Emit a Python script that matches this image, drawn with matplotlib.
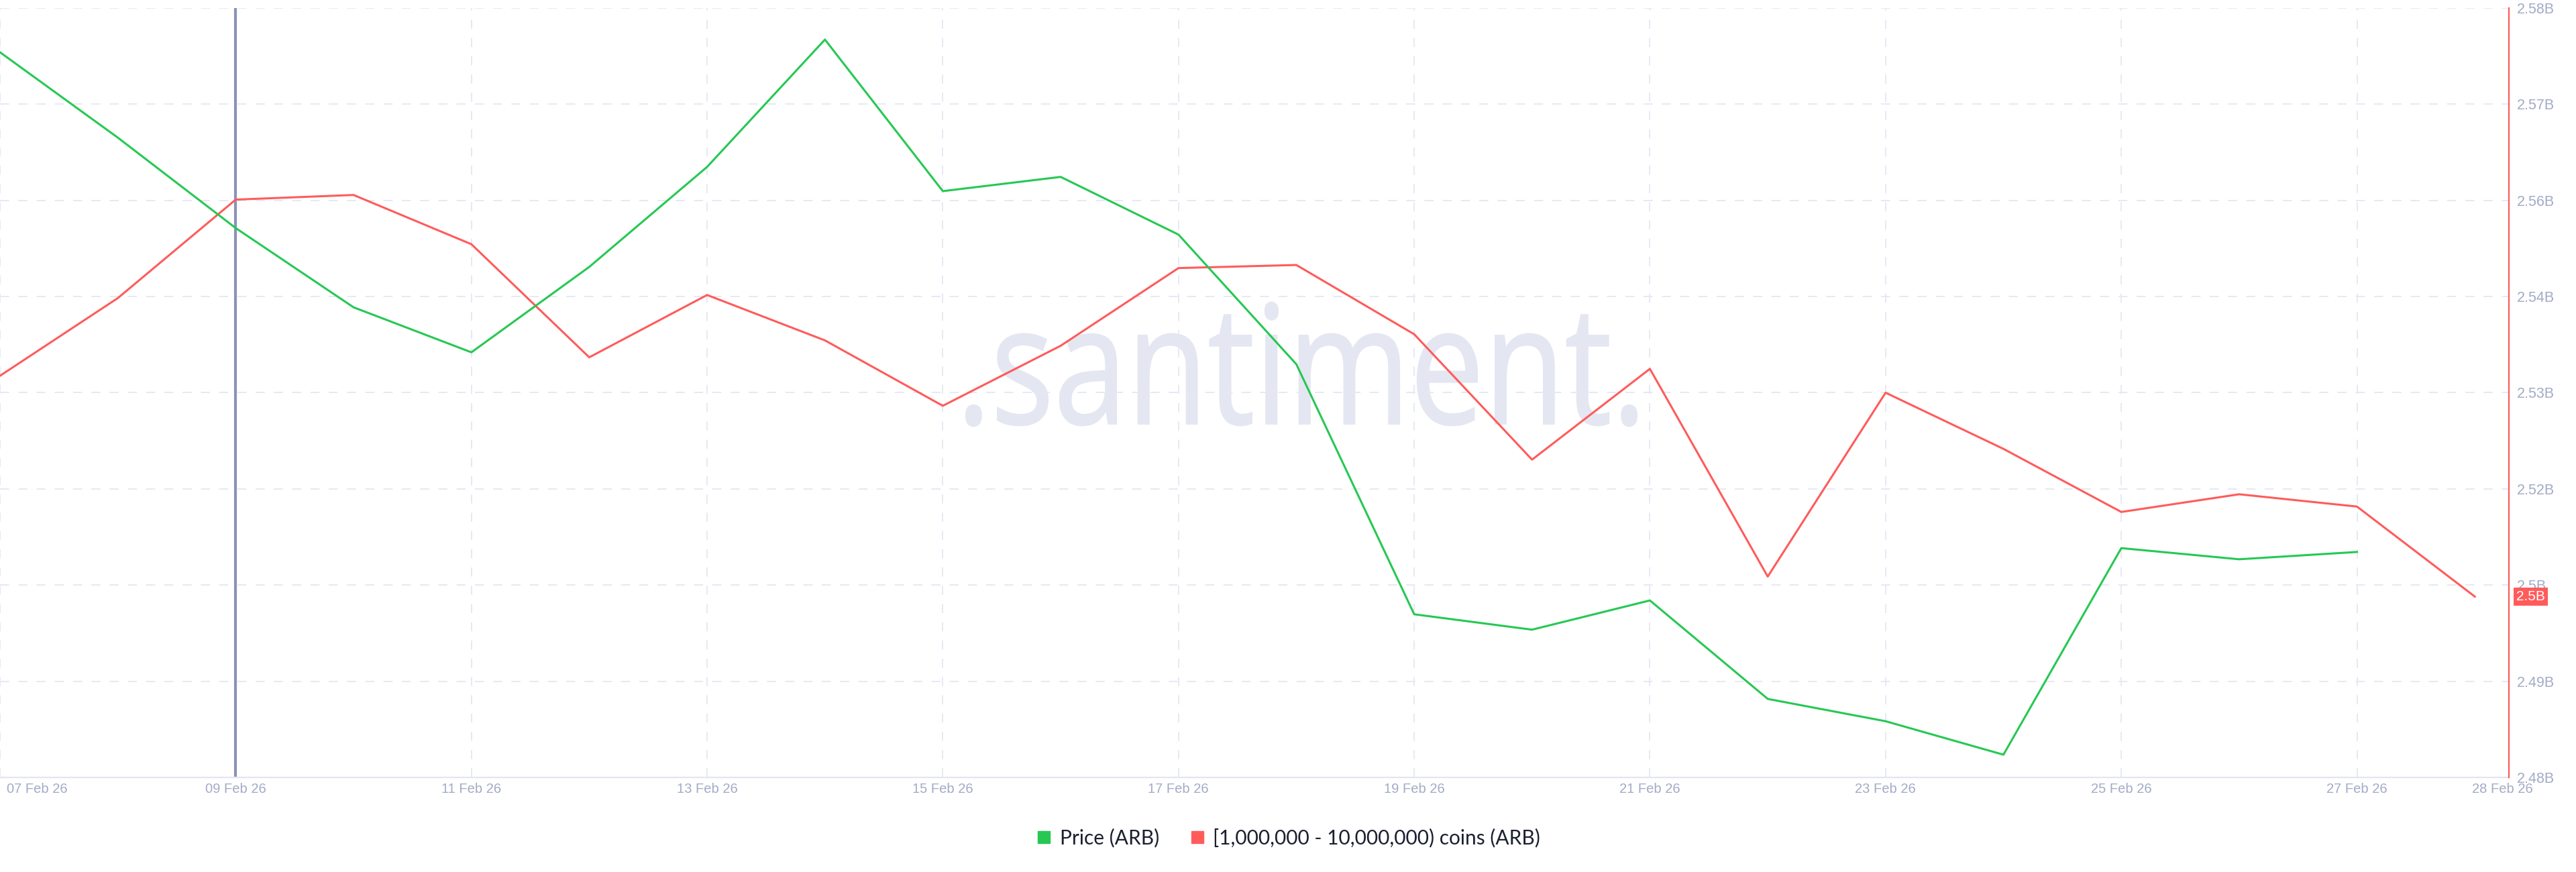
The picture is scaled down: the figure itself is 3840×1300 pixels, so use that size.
import numpy as np
import matplotlib
matplotlib.use('Agg')
import matplotlib.pyplot as plt
import matplotlib.dates as mdates
from matplotlib.lines import Line2D
from matplotlib.textpath import TextPath
from matplotlib.patches import PathPatch
from matplotlib.font_manager import FontProperties
from matplotlib.transforms import Affine2D, IdentityTransform, ScaledTranslation, blended_transform_factory

# daily points, 07 Feb 26 .. 28 Feb 26
dates = np.arange(np.datetime64('2026-02-07'), np.datetime64('2026-03-01'))

# supply held by [1M - 10M) coin wallets, in billions of ARB
holders_b = np.array([2.5322, 2.5423, 2.5551, 2.5557, 2.5493, 2.5346, 2.5427, 2.5368,
                      2.5283, 2.5361, 2.5462, 2.5466, 2.5376, 2.5213, 2.5331, 2.5061,
                      2.5300, 2.5227, 2.5145, 2.5168, 2.5152, 2.5035])

# ARB price (USD), last day missing
price = np.array([0.12885, 0.12663, 0.12428, 0.12222, 0.12105, 0.12327, 0.12587, 0.12918,
                  0.12524, 0.12561, 0.12411, 0.12074, 0.11424, 0.11384, 0.11460, 0.11204,
                  0.11146, 0.11059, 0.11596, 0.11567, 0.11586])

y_ticks_b = np.linspace(2.48, 2.58, 9)
y_tick_labels = ['2.48B', '2.49B', '2.5B', '2.52B', '2.53B', '2.54B', '2.56B', '2.57B', '2.58B']
x_tick_labels = ['07 Feb 26', '09 Feb 26', '11 Feb 26', '13 Feb 26', '15 Feb 26', '17 Feb 26',
                 '19 Feb 26', '21 Feb 26', '23 Feb 26', '25 Feb 26', '27 Feb 26', '28 Feb 26']
legend_labels = ['Price (ARB)', '[1,000,000 - 10,000,000) coins (ARB)']

GREEN = '#26c853'
RED = '#ff5b5b'
GRID = '#e6e9f4'
TICK = '#a3abc6'

fig = plt.figure(figsize=(38.4, 13), dpi=100)
ax = fig.add_axes([0, 0.1085, 0.974, 0.8823])
ax2 = ax.twinx()

x = mdates.date2num(dates.astype('datetime64[D]').astype(object))
x0 = x[0]
x_end = x0 + 21.29

# watermark
fp = FontProperties(family='Open Sans')
tp = TextPath((0, 0), '.santiment.', size=100, prop=fp)
bb = tp.get_extents()
sx = 1000 / bb.width
sy = 132 / 53.5
tr = Affine2D().translate(-bb.x0, 0).scale(sx, sy).translate(1440, 1300 - 632)
wm = PathPatch(tr.transform_path(tp), facecolor='#e4e7f1', edgecolor='#e4e7f1', lw=1.5,
               transform=IdentityTransform(), zorder=0.3, clip_on=False)
ax.add_artist(wm)

ax.plot(x, holders_b * 1e9, color=RED, lw=2.2, zorder=3)
ax2.plot(x[:len(price)], price, color=GREEN, lw=2.2, zorder=3)

ax.set_xlim(x0, x_end)
ax.set_ylim(2.48e9, 2.58e9)
ax2.set_ylim(0.11, 0.13)

ax.yaxis.tick_right()
ax.set_yticks(y_ticks_b * 1e9)
ax.set_yticklabels(y_tick_labels)
ax.tick_params(axis='y', length=0, pad=8.6, labelsize=15.5, labelcolor=TICK)
ax2.set_yticks([])

xt = list(x[0:21:2]) + [x_end]
ax.set_xticks(xt)
ax.set_xticklabels(x_tick_labels)
ax.tick_params(axis='x', length=0, pad=6, labelsize=14.5, labelcolor=TICK)
for lab in ax.get_xticklabels() + ax.get_yticklabels():
    lab.set_fontfamily('Liberation Sans')
first = ax.get_xticklabels()[0]
first.set_horizontalalignment('left')
first.set_transform(first.get_transform() + ScaledTranslation(10 / 100, 0, fig.dpi_scale_trans))
last = ax.get_xticklabels()[-1]
last.set_transform(last.get_transform() + ScaledTranslation(-10 / 100, 0, fig.dpi_scale_trans))

ax.grid(True, color=GRID, lw=1.4, linestyle=(0, (7, 7)), zorder=0.5)
ax.xaxis.get_gridlines()[-1].set_visible(False)

for a in (ax, ax2):
    a.spines['top'].set_visible(False)
    a.spines['left'].set_visible(False)
    a.spines['right'].set_visible(False)
    a.spines['bottom'].set_visible(False)
    a.patch.set_alpha(0)
ax2.spines['right'].set_visible(True)
ax2.spines['right'].set_color(RED)
ax2.spines['right'].set_linewidth(1.6)
ax.spines['bottom'].set_visible(True)
ax.spines['bottom'].set_color('#e3e6f2')
ax.spines['bottom'].set_linewidth(1.6)

# hover line
ax.axvline(x[2], color='#8b92b6', lw=3, zorder=2)

# last value tag
bt = blended_transform_factory(ax.transAxes, ax.transData)
ax.text(1.0, holders_b[-1] * 1e9, '2.5B', transform=bt + ScaledTranslation(11 / 100, 0, fig.dpi_scale_trans),
        ha='left', va='center', color='white', fontsize=15, family='Liberation Sans',
        bbox=dict(boxstyle='square,pad=0.2', fc=RED, ec='none'), zorder=10, clip_on=False)

handles = [Line2D([], [], marker='s', ls='none', color=GREEN, markersize=12.5),
           Line2D([], [], marker='s', ls='none', color=RED, markersize=12.5)]
fig.legend(handles, legend_labels, loc='center', bbox_to_anchor=(0.5, 0.039), ncol=2,
           frameon=False, handlelength=0.8, handletextpad=0.4, columnspacing=1.5,
           prop=FontProperties(family='Lato', size=21.5), labelcolor='#1b2030')

fig.savefig('out.png', dpi=100, facecolor='white')
